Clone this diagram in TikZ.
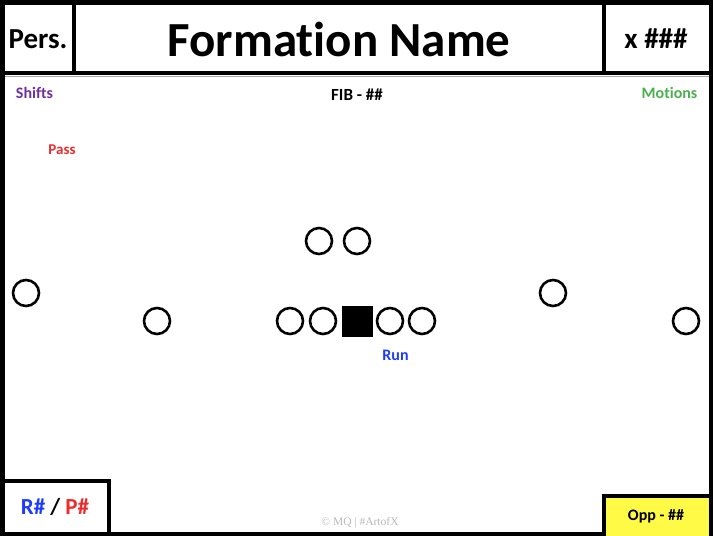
\documentclass[tikz,border=0pt]{standalone}
\usepackage{fontspec}
\setmainfont[Ligatures=NoCommon]{Carlito}
\newfontfamily\serifcr{Liberation Serif}
\definecolor{shiftc}{RGB}{112,48,160}
\definecolor{motc}{RGB}{76,175,80}
\definecolor{passc}{RGB}{238,44,44}
\definecolor{runc}{RGB}{30,60,255}
\definecolor{oppfill}{RGB}{255,250,70}
\begin{document}
\begin{tikzpicture}[x=1pt,y=-1pt,
  frame/.style={draw=black,line width=4.5pt},
  player/.style={circle,draw=black,line width=2.6pt,minimum size=26pt,inner sep=0pt},
  center/.style={rectangle,fill=black,minimum size=31pt,inner sep=0pt},
  lbl/.style={font=\bfseries,inner sep=0pt}]
\useasboundingbox (0,0) rectangle (713,536);
\fill[white] (0,0) rectangle (713,536);
% field outline
\draw[gray!70,line width=0.8pt] (2,76) -- (711,76);
\draw[frame] (2.25,73) -- (2.25,536);
\draw[frame] (710.75,73) -- (710.75,536);
\draw[frame] (0,533.75) -- (713,533.75);
% header boxes
\draw[frame] (2.25,2.25) rectangle (710.75,72.75);
\draw[frame] (74,2.25) -- (74,72.75);
\draw[frame] (604,2.25) -- (604,72.75);
% bottom boxes
\draw[frame] (2.25,481) -- (109,481) -- (109,536);
\draw[frame,fill=oppfill] (604,536) -- (604,496) -- (710.75,496) -- (710.75,536);
% header text
\node[lbl,font=\bfseries\fontsize{29}{29}\selectfont] (pers) at (38,39) {Pers.};
\node[lbl,font=\bfseries\fontsize{49}{49}\selectfont] (title) at (339,39) {Formation Name};
\node[lbl,font=\bfseries\fontsize{29}{29}\selectfont] (count) at (656,39) {x \#\#\#};
% field labels
\node[lbl,font=\bfseries\fontsize{16}{16}\selectfont,text=shiftc] (shifts) at (34.5,93) {Shifts};
\node[lbl,font=\bfseries\fontsize{17}{17}\selectfont] (fib) at (357,95) {FIB - \#\#};
\node[lbl,font=\bfseries\fontsize{16}{16}\selectfont,text=motc] (motions) at (669.5,93) {Motions};
\node[lbl,font=\bfseries\fontsize{15}{15}\selectfont,text=passc] (pass) at (62,150) {Pass};
\node[lbl,font=\bfseries\fontsize{16}{16}\selectfont,text=runc] (run) at (395.5,355) {Run};
\node[lbl,font=\bfseries\fontsize{23}{23}\selectfont] (rp) at (55,507) {\textcolor{runc}{R\#} / \textcolor{passc}{P\#}};
\node[lbl,font=\bfseries\fontsize{16}{16}\selectfont] (opp) at (656,516) {Opp - \#\#};
\node[inner sep=0pt,font=\serifcr\fontsize{11.5}{11.5}\selectfont,text=gray!55] (copy) at (360,523) {\textcopyright\ MQ | \#ArtofX};
% players
\node[player] (wl) at (26,293) {};
\node[player] (sl) at (157,321) {};
\node[player] (lt) at (290,321) {};
\node[player] (lg) at (323,321) {};
\node[center] (c) at (357,321) {};
\node[player] (rg) at (390,321) {};
\node[player] (rt) at (422,321) {};
\node[player] (b1) at (319,241) {};
\node[player] (b2) at (357,241) {};
\node[player] (sr) at (553,293) {};
\node[player] (wr) at (686,321) {};
\end{tikzpicture}
\end{document}
